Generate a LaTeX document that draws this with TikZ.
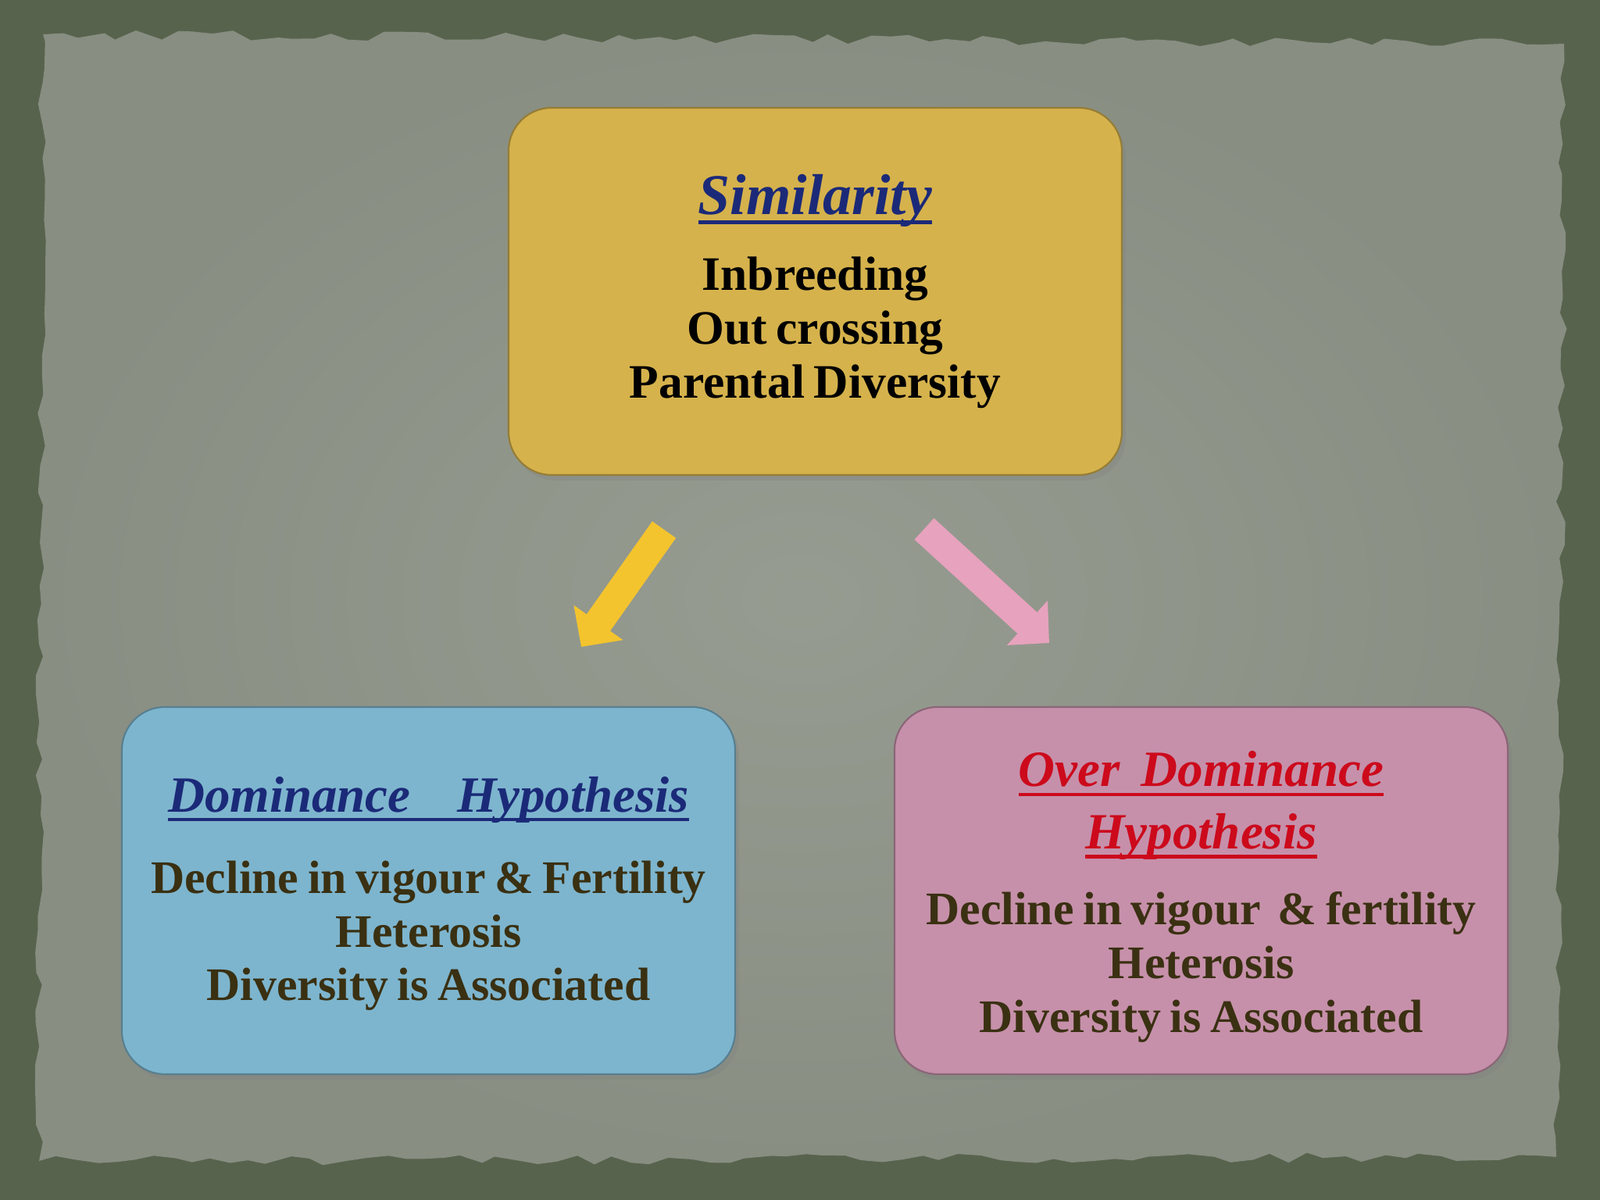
\documentclass[tikz,border=0pt]{standalone}
\usepackage{fontspec}
\setmainfont{Liberation Serif}
\usetikzlibrary{positioning,decorations.pathmorphing,arrows.meta,shadows}

\definecolor{frame}{HTML}{58634D}
\definecolor{paper}{HTML}{888E82}
\definecolor{gold}{HTML}{D5B24C}
\definecolor{sky}{HTML}{7DB5CE}
\definecolor{rose}{HTML}{C690AA}
\definecolor{navy}{HTML}{1B2A78}
\definecolor{crimson}{HTML}{CC0A1C}
\definecolor{umber}{HTML}{3A3012}
\definecolor{amber}{HTML}{F4C42E}
\definecolor{blush}{HTML}{E7A2BD}

% underline that runs through the descenders
\newcommand{\uln}[1]{\leavevmode\setbox0\hbox{#1}\rlap{\rule[-3.5pt]{\wd0}{1.3pt}}\box0}
\newcommand{\ttl}[2][21]{\bfseries\itshape\fontsize{#1}{22.6}\selectfont #2\par}
\newcommand{\bodytxt}[1][17.5]{\upshape\bfseries\fontsize{#1}{19.6}\selectfont}

\tikzset{
  card/.style={rounded corners=0.55cm, minimum width=7.85cm, minimum height=4.7cm,
    text width=7.6cm, align=center, fill=#1, draw=#1!70!black, line width=0.6pt,
    drop shadow={opacity=0.3, shadow xshift=0.05cm, shadow yshift=-0.07cm}},
  fat/.style={line width=0.37cm, -{Triangle[width=0.75cm,length=0.38cm]}},
}

\begin{document}
\begin{tikzpicture}
  \useasboundingbox (0,0) rectangle (20.48,15.36);
  % torn paper on the dark frame
  \fill[frame] (0,0) rectangle (20.48,15.36);
  \shade[inner color=paper!88!white, outer color=paper, decorate,
    decoration={random steps, segment length=7pt, amplitude=1.8pt}]
    (0.55,14.92) -- (20.02,14.80) -- (19.92,0.55) -- (0.50,0.50) -- cycle;

  \node[card=gold] (sim) at (10.435,11.63)
    {\ttl{\color{navy}\uln{Similarity}}\vspace{8pt}
     \bodytxt\color{black} Inbreeding\\ Out crossing\\ Parental Diversity\par};
  \node[card=sky] (dom) at (5.485,3.96)
    {\ttl[18.5]{\color{navy}\uln{Dominance\hspace{0.6cm}Hypothesis}}\vspace{10pt}
     \bodytxt[17]\color{umber} Decline in vigour \& Fertility\\ Heterosis\\ Diversity is Associated\par
     \vspace{-0.08cm}};
  \node[card=rose] (odom) at (15.375,3.96)
    {\ttl[18.5]{\color{crimson}\uln{Over\hspace{0.27cm}Dominance}\\ \uln{Hypothesis}}\vspace{8pt}
     \bodytxt[17]\color{umber} Decline in vigour\hspace{0.1cm} \& fertility\\ Heterosis\\ Diversity is Associated\par
     \vspace{-0.16cm}};

  % block arrows
  \coordinate (ytail) at (8.50,8.58);
  \coordinate (yhead) at (7.44,7.08);
  \coordinate (ptail) at (11.83,8.59);
  \coordinate (phead) at (13.43,7.13);
  \draw[fat, amber] (ytail) -- (yhead);
  \draw[fat, blush] (ptail) -- (phead);
\end{tikzpicture}
\end{document}
